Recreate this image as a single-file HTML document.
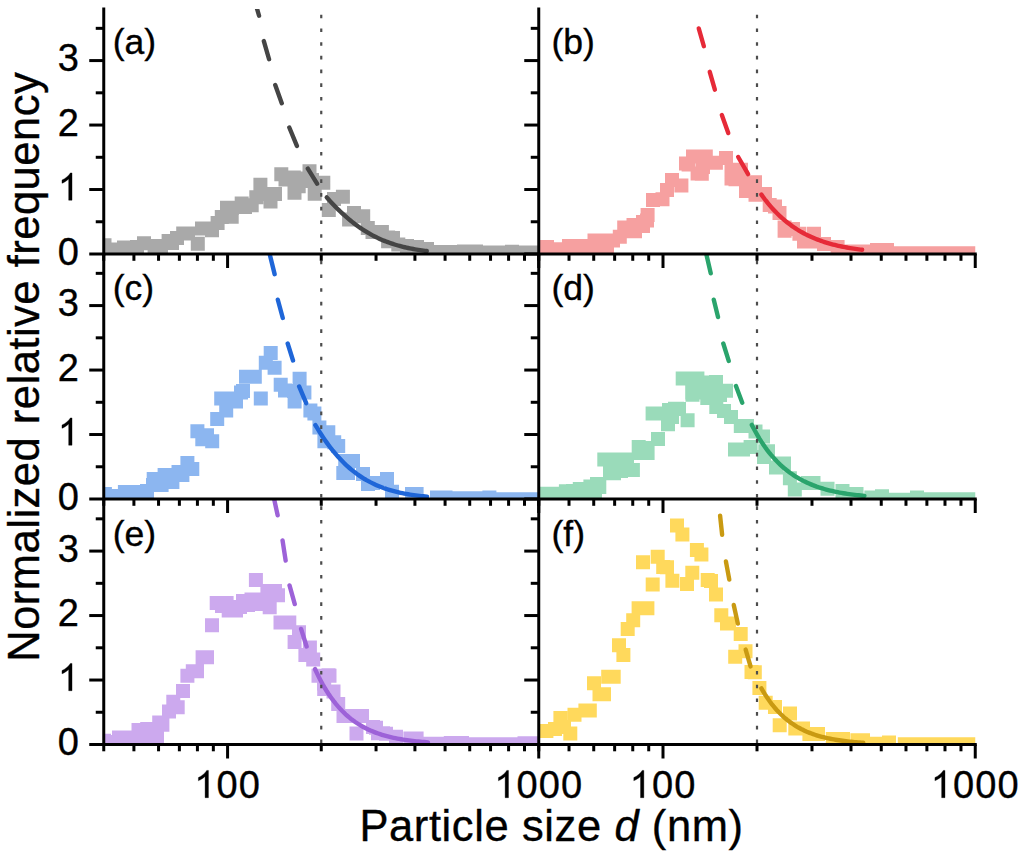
<!DOCTYPE html>
<html><head><meta charset="utf-8"><style>html,body{margin:0;padding:0;background:#fff;width:1025px;height:856px;overflow:hidden}svg{display:block}</style></head>
<body><svg width="1025" height="856" viewBox="0 0 1025 856">
<rect width="1025" height="856" fill="#fff"/>
<defs>
<clipPath id="cla"><rect x="103.75" y="9.0" width="435.0" height="245.0"/></clipPath>
<clipPath id="clb"><rect x="538.75" y="9.0" width="436.5" height="245.0"/></clipPath>
<clipPath id="clc"><rect x="103.75" y="254.0" width="435.0" height="245.0"/></clipPath>
<clipPath id="cld"><rect x="538.75" y="254.0" width="436.5" height="245.0"/></clipPath>
<clipPath id="cle"><rect x="103.75" y="499.5" width="435.0" height="245.0"/></clipPath>
<clipPath id="clf"><rect x="538.75" y="499.5" width="436.5" height="245.0"/></clipPath>
</defs>
<g clip-path="url(#cla)">
<path d="M97.5,238.3h14v14h-14zM104.0,244.6h14v14h-14zM110.0,242.5h14v14h-14zM117.0,240.4h14v14h-14zM124.0,240.4h14v14h-14zM130.0,240.0h14v14h-14zM137.0,236.2h14v14h-14zM147.6,238.9h14v14h-14zM154.0,238.9h14v14h-14zM161.6,234.1h14v14h-14zM165.0,236.0h14v14h-14zM170.0,231.0h14v14h-14zM176.2,226.4h14v14h-14zM181.0,226.4h14v14h-14zM190.8,236.8h14v14h-14zM195.0,221.6h14v14h-14zM203.0,221.6h14v14h-14zM205.0,223.2h14v14h-14zM210.6,216.0h14v14h-14zM214.8,210.1h14v14h-14zM220.0,200.7h14v14h-14zM225.0,200.7h14v14h-14zM224.7,209.7h14v14h-14zM234.7,196.5h14v14h-14zM238.0,200.0h14v14h-14zM244.7,198.2h14v14h-14zM249.3,190.3h14v14h-14zM253.4,177.7h14v14h-14zM263.5,194.4h14v14h-14zM268.0,187.1h14v14h-14zM274.3,167.3h14v14h-14zM286.8,170.4h14v14h-14zM287.5,185.7h14v14h-14zM295.0,174.0h14v14h-14zM302.5,164.2h14v14h-14zM307.7,186.7h14v14h-14zM316.3,175.8h14v14h-14zM278.5,172.4h14v14h-14zM291.7,179.3h14v14h-14zM294.5,171.5h14v14h-14zM305.0,173.0h14v14h-14zM255.0,187.0h14v14h-14zM321.8,203.1h14v14h-14zM327.0,192.0h14v14h-14zM335.9,189.8h14v14h-14zM342.1,212.4h14v14h-14zM347.0,206.0h14v14h-14zM356.2,209.3h14v14h-14zM360.8,221.0h14v14h-14zM365.5,224.9h14v14h-14zM374.9,224.9h14v14h-14zM381.1,230.4h14v14h-14zM381.1,234.3h14v14h-14zM385.8,231.2h14v14h-14zM391.3,237.4h14v14h-14zM400.0,239.0h14v14h-14zM386.0,231.1h14v14h-14zM416.0,242.0h14v14h-14zM410.0,240.0h14v14h-14zM420.0,242.0h14v14h-14zM433.0,245.0h14v14h-14zM445.0,245.0h14v14h-14zM457.0,244.5h14v14h-14zM469.0,244.5h14v14h-14zM481.0,245.5h14v14h-14zM493.0,245.5h14v14h-14zM505.0,244.7h14v14h-14zM517.0,245.5h14v14h-14zM529.0,245.5h14v14h-14z" fill="#a9a9a9"/>
<path d="M255.04,1.84L259.06,15.76M263.84,41.04L269.06,59.26M275.24,85.11L281.76,103.29M289.31,127.48L296.89,145.92M307.83,168.57L317.07,183.73" fill="none" stroke="#454545" stroke-width="4.4" stroke-linecap="round"/>
<path d="M326.70,197.39 L328.40,199.28 L330.09,201.13 L331.79,202.95 L333.49,204.73 L335.18,206.48 L336.88,208.19 L338.58,209.86 L340.27,211.49 L341.97,213.09 L343.67,214.65 L345.36,216.17 L347.06,217.65 L348.76,219.09 L350.45,220.50 L352.15,221.86 L353.85,223.19 L355.54,224.47 L357.24,225.72 L358.94,226.93 L360.63,228.11 L362.33,229.25 L364.03,230.34 L365.72,231.41 L367.42,232.44 L369.12,233.43 L370.81,234.38 L372.51,235.31 L374.21,236.20 L375.90,237.05 L377.60,237.88 L379.29,238.67 L380.99,239.43 L382.69,240.16 L384.38,240.86 L386.08,241.54 L387.78,242.18 L389.47,242.80 L391.17,243.39 L392.87,243.96 L394.56,244.50 L396.26,245.01 L397.96,245.51 L399.65,245.98 L401.35,246.43 L403.05,246.85 L404.74,247.26 L406.44,247.65 L408.14,248.02 L409.83,248.37 L411.53,248.70 L413.23,249.02 L414.92,249.31 L416.62,249.60 L418.32,249.87 L420.01,250.12 L421.71,250.36 L423.41,250.59 L425.10,250.81 L426.80,251.01" fill="none" stroke="#454545" stroke-width="4.4" stroke-linecap="round"/>
</g>
<g clip-path="url(#clb)">
<path d="M540.0,239.9h14v14h-14zM548.0,242.2h14v14h-14zM556.0,242.2h14v14h-14zM562.0,239.1h14v14h-14zM570.0,239.1h14v14h-14zM578.0,239.1h14v14h-14zM587.5,233.4h14v14h-14zM594.0,233.4h14v14h-14zM600.0,233.4h14v14h-14zM606.0,233.4h14v14h-14zM612.8,229.8h14v14h-14zM617.2,220.4h14v14h-14zM622.0,224.3h14v14h-14zM626.5,218.0h14v14h-14zM628.0,224.3h14v14h-14zM636.0,215.0h14v14h-14zM636.0,218.9h14v14h-14zM640.6,207.9h14v14h-14zM640.0,213.4h14v14h-14zM646.0,193.1h14v14h-14zM655.5,192.3h14v14h-14zM660.0,183.0h14v14h-14zM665.0,173.1h14v14h-14zM674.4,178.4h14v14h-14zM679.0,156.4h14v14h-14zM681.6,157.4h14v14h-14zM686.0,149.4h14v14h-14zM690.6,166.6h14v14h-14zM698.8,149.5h14v14h-14zM696.0,160.0h14v14h-14zM734.4,170.2h14v14h-14zM728.5,172.2h14v14h-14zM587.0,240.0h14v14h-14zM600.0,240.0h14v14h-14zM694.8,166.7h14v14h-14zM708.9,155.8h14v14h-14zM719.0,151.1h14v14h-14zM724.5,162.8h14v14h-14zM734.0,162.8h14v14h-14zM724.5,171.4h14v14h-14zM739.0,183.9h14v14h-14zM748.0,175.3h14v14h-14zM748.5,187.8h14v14h-14zM758.0,187.0h14v14h-14zM768.0,199.5h14v14h-14zM762.7,198.0h14v14h-14zM772.5,206.0h14v14h-14zM777.6,220.5h14v14h-14zM786.0,222.0h14v14h-14zM777.6,223.7h14v14h-14zM792.4,226.8h14v14h-14zM807.0,226.8h14v14h-14zM797.0,234.6h14v14h-14zM806.5,234.6h14v14h-14zM817.0,237.0h14v14h-14zM830.6,240.0h14v14h-14zM844.0,244.6h14v14h-14zM856.0,244.6h14v14h-14zM870.0,243.0h14v14h-14zM880.0,243.0h14v14h-14zM892.0,246.2h14v14h-14zM904.0,246.2h14v14h-14zM916.0,246.2h14v14h-14zM928.0,246.2h14v14h-14zM940.0,246.2h14v14h-14zM952.0,246.2h14v14h-14zM964.0,246.2h14v14h-14z" fill="#f6a0a0"/>
<path d="M698.74,28.44L703.86,46.26M709.74,71.84L714.86,89.66M721.84,115.11L728.26,133.09M738.20,156.99L748.10,174.11" fill="none" stroke="#e62a38" stroke-width="4.4" stroke-linecap="round"/>
<path d="M761.40,194.59 L763.11,196.96 L764.81,199.25 L766.52,201.45 L768.23,203.57 L769.93,205.61 L771.64,207.58 L773.35,209.47 L775.05,211.29 L776.76,213.05 L778.47,214.73 L780.17,216.35 L781.88,217.92 L783.59,219.42 L785.29,220.86 L787.00,222.25 L788.71,223.58 L790.42,224.86 L792.12,226.10 L793.83,227.28 L795.54,228.42 L797.24,229.51 L798.95,230.56 L800.66,231.56 L802.36,232.53 L804.07,233.46 L805.78,234.35 L807.48,235.21 L809.19,236.03 L810.90,236.81 L812.60,237.57 L814.31,238.29 L816.02,238.99 L817.72,239.65 L819.43,240.29 L821.14,240.90 L822.84,241.49 L824.55,242.05 L826.26,242.59 L827.96,243.10 L829.67,243.60 L831.38,244.07 L833.08,244.52 L834.79,244.95 L836.50,245.37 L838.21,245.77 L839.91,246.15 L841.62,246.51 L843.33,246.86 L845.03,247.19 L846.74,247.51 L848.45,247.81 L850.15,248.10 L851.86,248.38 L853.57,248.64 L855.27,248.90 L856.98,249.14 L858.69,249.37 L860.39,249.59 L862.10,249.80" fill="none" stroke="#e62a38" stroke-width="4.4" stroke-linecap="round"/>
</g>
<g clip-path="url(#clc)">
<path d="M97.9,486.9h14v14h-14zM104.0,488.9h14v14h-14zM110.0,488.9h14v14h-14zM117.9,484.9h14v14h-14zM125.0,484.9h14v14h-14zM132.7,484.9h14v14h-14zM140.0,484.0h14v14h-14zM146.7,472.0h14v14h-14zM146.0,478.0h14v14h-14zM154.6,477.9h14v14h-14zM157.6,468.0h14v14h-14zM165.4,474.9h14v14h-14zM171.5,465.0h14v14h-14zM175.4,467.9h14v14h-14zM180.4,456.1h14v14h-14zM185.3,462.0h14v14h-14zM190.4,424.3h14v14h-14zM195.3,432.2h14v14h-14zM200.0,428.3h14v14h-14zM205.2,434.3h14v14h-14zM210.2,412.0h14v14h-14zM214.2,391.6h14v14h-14zM219.2,403.4h14v14h-14zM224.0,391.6h14v14h-14zM229.0,394.5h14v14h-14zM234.0,385.6h14v14h-14zM239.0,369.7h14v14h-14zM247.8,369.7h14v14h-14zM253.8,391.6h14v14h-14zM258.8,355.8h14v14h-14zM263.7,345.9h14v14h-14zM267.6,360.8h14v14h-14zM273.7,377.7h14v14h-14zM278.0,383.5h14v14h-14zM287.6,394.5h14v14h-14zM292.6,371.7h14v14h-14zM287.0,384.0h14v14h-14zM236.0,384.0h14v14h-14zM297.4,385.6h14v14h-14zM303.4,403.5h14v14h-14zM307.4,406.5h14v14h-14zM312.4,420.4h14v14h-14zM317.4,434.2h14v14h-14zM321.3,425.3h14v14h-14zM327.2,435.3h14v14h-14zM331.2,439.1h14v14h-14zM338.2,454.1h14v14h-14zM346.0,454.1h14v14h-14zM336.3,466.0h14v14h-14zM341.0,466.0h14v14h-14zM356.0,467.0h14v14h-14zM361.0,476.9h14v14h-14zM366.0,476.0h14v14h-14zM380.0,472.1h14v14h-14zM385.0,484.8h14v14h-14zM405.0,487.1h14v14h-14zM409.6,487.1h14v14h-14zM430.0,490.4h14v14h-14zM438.5,490.4h14v14h-14zM452.5,491.3h14v14h-14zM466.0,491.3h14v14h-14zM473.0,491.3h14v14h-14zM482.4,490.6h14v14h-14zM496.4,492.3h14v14h-14zM510.0,492.3h14v14h-14zM524.0,492.3h14v14h-14z" fill="#8cb6f0"/>
<path d="M268.67,249.97L274.62,274.15M277.82,299.74L282.78,317.96M287.68,343.53L293.02,360.47M299.12,386.47L306.18,403.13" fill="none" stroke="#1f66d8" stroke-width="4.4" stroke-linecap="round"/>
<path d="M315.40,425.06 L317.29,428.24 L319.18,431.32 L321.07,434.29 L322.97,437.17 L324.86,439.95 L326.75,442.63 L328.64,445.22 L330.53,447.71 L332.42,450.12 L334.32,452.43 L336.21,454.66 L338.10,456.80 L339.99,458.86 L341.88,460.84 L343.77,462.74 L345.66,464.56 L347.56,466.31 L349.45,467.98 L351.34,469.58 L353.23,471.12 L355.12,472.59 L357.01,473.99 L358.91,475.33 L360.80,476.61 L362.69,477.83 L364.58,479.00 L366.47,480.11 L368.36,481.16 L370.25,482.17 L372.15,483.13 L374.04,484.04 L375.93,484.91 L377.82,485.73 L379.71,486.51 L381.60,487.25 L383.49,487.96 L385.39,488.62 L387.28,489.25 L389.17,489.85 L391.06,490.41 L392.95,490.95 L394.84,491.45 L396.74,491.93 L398.63,492.38 L400.52,492.80 L402.41,493.20 L404.30,493.58 L406.19,493.94 L408.08,494.27 L409.98,494.58 L411.87,494.88 L413.76,495.16 L415.65,495.42 L417.54,495.66 L419.43,495.89 L421.33,496.11 L423.22,496.31 L425.11,496.50 L427.00,496.68" fill="none" stroke="#1f66d8" stroke-width="4.4" stroke-linecap="round"/>
</g>
<g clip-path="url(#cld)">
<path d="M535.0,486.8h14v14h-14zM541.0,486.8h14v14h-14zM548.0,486.8h14v14h-14zM558.9,484.3h14v14h-14zM572.8,481.9h14v14h-14zM566.0,484.0h14v14h-14zM578.0,484.0h14v14h-14zM588.0,484.0h14v14h-14zM583.4,479.4h14v14h-14zM590.0,477.0h14v14h-14zM592.3,480.0h14v14h-14zM597.3,452.4h14v14h-14zM606.0,452.4h14v14h-14zM614.0,452.4h14v14h-14zM620.0,452.4h14v14h-14zM603.0,466.2h14v14h-14zM607.0,466.2h14v14h-14zM614.0,464.0h14v14h-14zM625.9,463.0h14v14h-14zM631.7,440.1h14v14h-14zM640.6,445.9h14v14h-14zM651.0,432.0h14v14h-14zM661.0,417.2h14v14h-14zM645.6,406.6h14v14h-14zM652.0,406.6h14v14h-14zM668.0,401.7h14v14h-14zM670.0,401.7h14v14h-14zM680.6,413.2h14v14h-14zM675.7,371.4h14v14h-14zM682.0,371.4h14v14h-14zM685.5,387.8h14v14h-14zM690.4,371.4h14v14h-14zM717.0,404.0h14v14h-14zM685.2,385.4h14v14h-14zM693.0,385.4h14v14h-14zM701.0,386.0h14v14h-14zM713.0,388.0h14v14h-14zM709.0,375.0h14v14h-14zM662.0,403.0h14v14h-14zM672.0,402.0h14v14h-14zM665.0,410.0h14v14h-14zM638.0,441.0h14v14h-14zM632.0,446.0h14v14h-14zM704.3,375.5h14v14h-14zM700.3,391.0h14v14h-14zM709.3,400.0h14v14h-14zM719.0,383.7h14v14h-14zM724.0,409.9h14v14h-14zM733.8,418.9h14v14h-14zM740.0,418.9h14v14h-14zM748.5,424.6h14v14h-14zM728.0,442.6h14v14h-14zM736.0,442.6h14v14h-14zM743.6,440.1h14v14h-14zM756.0,429.5h14v14h-14zM758.3,444.2h14v14h-14zM761.0,444.2h14v14h-14zM757.0,449.9h14v14h-14zM773.0,456.5h14v14h-14zM777.0,456.5h14v14h-14zM769.0,460.5h14v14h-14zM782.9,471.2h14v14h-14zM787.8,482.6h14v14h-14zM800.8,476.1h14v14h-14zM806.5,476.1h14v14h-14zM820.5,481.8h14v14h-14zM835.5,483.9h14v14h-14zM849.5,487.1h14v14h-14zM864.4,490.6h14v14h-14zM875.0,489.2h14v14h-14zM889.0,492.7h14v14h-14zM900.0,492.7h14v14h-14zM910.0,490.6h14v14h-14zM922.4,492.3h14v14h-14zM936.0,492.3h14v14h-14zM950.0,492.3h14v14h-14zM962.0,492.3h14v14h-14z" fill="#9adbba"/>
<path d="M705.35,249.95L710.74,273.24M713.78,299.75L718.02,317.05M723.28,343.53L728.72,360.87M735.96,386.00L742.24,402.70" fill="none" stroke="#2aa46c" stroke-width="4.4" stroke-linecap="round"/>
<path d="M751.80,424.90 L753.71,428.57 L755.62,432.07 L757.53,435.40 L759.43,438.58 L761.34,441.60 L763.25,444.47 L765.16,447.21 L767.07,449.81 L768.98,452.29 L770.88,454.64 L772.79,456.88 L774.70,459.02 L776.61,461.05 L778.52,462.97 L780.43,464.81 L782.34,466.55 L784.24,468.21 L786.15,469.79 L788.06,471.28 L789.97,472.71 L791.88,474.06 L793.79,475.35 L795.69,476.57 L797.60,477.73 L799.51,478.83 L801.42,479.88 L803.33,480.88 L805.24,481.82 L807.15,482.72 L809.05,483.57 L810.96,484.38 L812.87,485.15 L814.78,485.87 L816.69,486.57 L818.60,487.22 L820.51,487.84 L822.41,488.44 L824.32,489.00 L826.23,489.53 L828.14,490.03 L830.05,490.51 L831.96,490.96 L833.86,491.39 L835.77,491.80 L837.68,492.19 L839.59,492.55 L841.50,492.90 L843.41,493.23 L845.32,493.54 L847.22,493.84 L849.13,494.12 L851.04,494.38 L852.95,494.64 L854.86,494.87 L856.77,495.10 L858.67,495.31 L860.58,495.51 L862.49,495.71 L864.40,495.89" fill="none" stroke="#2aa46c" stroke-width="4.4" stroke-linecap="round"/>
</g>
<g clip-path="url(#cle)">
<path d="M97.0,733.8h14v14h-14zM104.0,735.0h14v14h-14zM112.0,730.6h14v14h-14zM117.5,730.6h14v14h-14zM131.5,723.0h14v14h-14zM128.0,733.0h14v14h-14zM140.0,731.0h14v14h-14zM150.0,729.0h14v14h-14zM138.0,723.0h14v14h-14zM140.2,722.0h14v14h-14zM152.2,715.4h14v14h-14zM155.4,717.7h14v14h-14zM162.0,704.5h14v14h-14zM166.3,694.7h14v14h-14zM170.7,700.2h14v14h-14zM176.0,683.9h14v14h-14zM180.4,668.7h14v14h-14zM185.8,664.3h14v14h-14zM190.0,664.3h14v14h-14zM195.6,650.2h14v14h-14zM200.0,650.2h14v14h-14zM205.0,618.2h14v14h-14zM209.7,595.9h14v14h-14zM215.0,599.0h14v14h-14zM225.0,600.0h14v14h-14zM233.0,600.0h14v14h-14zM241.0,598.0h14v14h-14zM250.0,597.0h14v14h-14zM236.0,594.0h14v14h-14zM219.6,595.9h14v14h-14zM221.7,603.6h14v14h-14zM229.0,603.6h14v14h-14zM244.5,592.6h14v14h-14zM252.0,592.6h14v14h-14zM248.9,573.0h14v14h-14zM260.4,583.9h14v14h-14zM268.0,583.9h14v14h-14zM262.7,600.3h14v14h-14zM265.9,588.2h14v14h-14zM271.0,588.2h14v14h-14zM273.5,615.4h14v14h-14zM282.3,615.4h14v14h-14zM292.0,625.2h14v14h-14zM287.6,635.1h14v14h-14zM302.9,640.4h14v14h-14zM298.4,648.1h14v14h-14zM306.2,652.4h14v14h-14zM311.5,668.7h14v14h-14zM322.5,668.7h14v14h-14zM317.0,676.4h14v14h-14zM331.2,696.9h14v14h-14zM326.5,684.4h14v14h-14zM317.2,682.0h14v14h-14zM321.5,668.3h14v14h-14zM336.5,708.9h14v14h-14zM346.0,708.9h14v14h-14zM355.0,708.9h14v14h-14zM336.5,709.0h14v14h-14zM349.5,726.4h14v14h-14zM369.0,720.8h14v14h-14zM371.0,726.2h14v14h-14zM376.0,726.2h14v14h-14zM366.0,720.1h14v14h-14zM379.0,726.8h14v14h-14zM389.0,729.8h14v14h-14zM403.4,731.5h14v14h-14zM409.6,731.5h14v14h-14zM423.6,736.8h14v14h-14zM430.0,736.8h14v14h-14zM443.8,735.9h14v14h-14zM455.0,735.9h14v14h-14zM468.0,737.3h14v14h-14zM482.0,737.3h14v14h-14zM496.0,737.3h14v14h-14zM510.0,737.3h14v14h-14zM517.5,736.3h14v14h-14zM526.0,736.3h14v14h-14z" fill="#cca9ee"/>
<path d="M273.23,494.94L277.66,515.34M282.54,540.38L285.66,560.62M289.53,585.44L294.77,604.06M301.08,628.93L306.62,646.47" fill="none" stroke="#9d62d8" stroke-width="4.4" stroke-linecap="round"/>
<path d="M315.00,669.01 L316.92,673.14 L318.83,677.04 L320.75,680.74 L322.66,684.25 L324.58,687.57 L326.49,690.72 L328.41,693.70 L330.32,696.52 L332.24,699.19 L334.15,701.72 L336.07,704.11 L337.98,706.38 L339.90,708.52 L341.81,710.55 L343.73,712.47 L345.64,714.28 L347.56,716.00 L349.47,717.62 L351.39,719.15 L353.31,720.60 L355.22,721.97 L357.14,723.26 L359.05,724.49 L360.97,725.64 L362.88,726.73 L364.80,727.76 L366.71,728.74 L368.63,729.65 L370.54,730.52 L372.46,731.34 L374.37,732.11 L376.29,732.84 L378.20,733.53 L380.12,734.18 L382.03,734.79 L383.95,735.36 L385.86,735.91 L387.78,736.42 L389.69,736.90 L391.61,737.36 L393.53,737.79 L395.44,738.19 L397.36,738.57 L399.27,738.93 L401.19,739.27 L403.10,739.58 L405.02,739.88 L406.93,740.16 L408.85,740.43 L410.76,740.68 L412.68,740.91 L414.59,741.13 L416.51,741.34 L418.42,741.54 L420.34,741.72 L422.25,741.89 L424.17,742.05 L426.08,742.21 L428.00,742.35" fill="none" stroke="#9d62d8" stroke-width="4.4" stroke-linecap="round"/>
</g>
<g clip-path="url(#clf)">
<path d="M539.4,724.0h14v14h-14zM553.4,711.0h14v14h-14zM548.0,722.0h14v14h-14zM557.0,720.0h14v14h-14zM563.3,726.4h14v14h-14zM567.5,707.8h14v14h-14zM578.4,703.4h14v14h-14zM582.8,703.4h14v14h-14zM587.0,676.3h14v14h-14zM601.2,669.7h14v14h-14zM606.7,669.7h14v14h-14zM592.5,687.2h14v14h-14zM597.0,687.2h14v14h-14zM612.0,638.2h14v14h-14zM616.4,648.0h14v14h-14zM620.7,621.9h14v14h-14zM626.2,613.2h14v14h-14zM631.6,601.3h14v14h-14zM640.4,601.3h14v14h-14zM645.7,577.4h14v14h-14zM636.0,555.3h14v14h-14zM650.7,549.8h14v14h-14zM656.2,560.0h14v14h-14zM660.0,560.2h14v14h-14zM665.4,573.8h14v14h-14zM670.0,518.6h14v14h-14zM675.4,527.6h14v14h-14zM680.0,577.0h14v14h-14zM685.3,565.7h14v14h-14zM689.9,543.0h14v14h-14zM694.4,547.5h14v14h-14zM700.7,573.0h14v14h-14zM704.0,574.0h14v14h-14zM709.0,587.4h14v14h-14zM714.3,608.2h14v14h-14zM720.0,616.4h14v14h-14zM722.0,616.4h14v14h-14zM733.7,627.0h14v14h-14zM728.2,649.7h14v14h-14zM738.5,644.2h14v14h-14zM744.5,665.0h14v14h-14zM747.8,665.3h14v14h-14zM752.4,680.9h14v14h-14zM758.7,695.7h14v14h-14zM768.0,700.0h14v14h-14zM783.0,706.6h14v14h-14zM772.7,718.3h14v14h-14zM788.3,721.5h14v14h-14zM796.0,721.5h14v14h-14zM802.4,726.9h14v14h-14zM811.0,726.9h14v14h-14zM825.8,732.1h14v14h-14zM836.0,732.1h14v14h-14zM850.4,733.3h14v14h-14zM856.0,733.3h14v14h-14zM869.7,736.8h14v14h-14zM882.0,735.6h14v14h-14zM897.8,737.3h14v14h-14zM911.0,737.3h14v14h-14zM925.0,737.3h14v14h-14zM939.0,737.3h14v14h-14zM953.0,737.3h14v14h-14zM964.0,737.3h14v14h-14z" fill="#ffd95c"/>
<path d="M720.07,515.59L722.13,534.71M725.90,561.37L729.30,579.53M733.74,604.96L737.86,623.64M745.65,649.54L750.55,666.46" fill="none" stroke="#c99a12" stroke-width="4.4" stroke-linecap="round"/>
<path d="M761.40,688.37 L763.13,691.33 L764.85,694.14 L766.58,696.81 L768.30,699.34 L770.03,701.75 L771.75,704.03 L773.48,706.20 L775.20,708.26 L776.93,710.21 L778.65,712.06 L780.38,713.81 L782.11,715.48 L783.83,717.06 L785.56,718.56 L787.28,719.98 L789.01,721.32 L790.73,722.60 L792.46,723.80 L794.18,724.95 L795.91,726.03 L797.63,727.06 L799.36,728.03 L801.08,728.95 L802.81,729.82 L804.54,730.65 L806.26,731.43 L807.99,732.16 L809.71,732.86 L811.44,733.52 L813.16,734.15 L814.89,734.74 L816.61,735.29 L818.34,735.82 L820.06,736.32 L821.79,736.79 L823.52,737.24 L825.24,737.66 L826.97,738.05 L828.69,738.43 L830.42,738.78 L832.14,739.12 L833.87,739.43 L835.59,739.73 L837.32,740.01 L839.04,740.27 L840.77,740.52 L842.49,740.76 L844.22,740.98 L845.95,741.19 L847.67,741.39 L849.40,741.58 L851.12,741.75 L852.85,741.92 L854.57,742.07 L856.30,742.22 L858.02,742.36 L859.75,742.49 L861.47,742.61 L863.20,742.73" fill="none" stroke="#c99a12" stroke-width="4.4" stroke-linecap="round"/>
</g>
<line x1="321.25" y1="9.0" x2="321.25" y2="254.0" stroke="#4d4d4d" stroke-width="2.2" stroke-dasharray="3.6 10.12" stroke-dashoffset="-5.70"/>
<line x1="757.00" y1="9.0" x2="757.00" y2="254.0" stroke="#4d4d4d" stroke-width="2.2" stroke-dasharray="3.6 10.12" stroke-dashoffset="-5.70"/>
<line x1="321.25" y1="254.0" x2="321.25" y2="499.0" stroke="#4d4d4d" stroke-width="2.2" stroke-dasharray="3.6 10.12" stroke-dashoffset="-6.70"/>
<line x1="757.00" y1="254.0" x2="757.00" y2="499.0" stroke="#4d4d4d" stroke-width="2.2" stroke-dasharray="3.6 10.12" stroke-dashoffset="-6.70"/>
<line x1="321.25" y1="499.5" x2="321.25" y2="744.5" stroke="#4d4d4d" stroke-width="2.2" stroke-dasharray="3.6 10.12" stroke-dashoffset="-6.80"/>
<line x1="757.00" y1="499.5" x2="757.00" y2="744.5" stroke="#4d4d4d" stroke-width="2.2" stroke-dasharray="3.6 10.12" stroke-dashoffset="-6.80"/>
<line x1="103.75" y1="7.5" x2="103.75" y2="255.5" stroke="#000" stroke-width="3"/>
<line x1="103.75" y1="254.0" x2="538.75" y2="254.0" stroke="#000" stroke-width="3"/>
<line x1="89.25" y1="254.00" x2="103.75" y2="254.00" stroke="#000" stroke-width="3"/>
<line x1="95.75" y1="221.76" x2="103.75" y2="221.76" stroke="#000" stroke-width="3"/>
<line x1="89.25" y1="189.53" x2="103.75" y2="189.53" stroke="#000" stroke-width="3"/>
<line x1="95.75" y1="157.29" x2="103.75" y2="157.29" stroke="#000" stroke-width="3"/>
<line x1="89.25" y1="125.05" x2="103.75" y2="125.05" stroke="#000" stroke-width="3"/>
<line x1="95.75" y1="92.82" x2="103.75" y2="92.82" stroke="#000" stroke-width="3"/>
<line x1="89.25" y1="60.58" x2="103.75" y2="60.58" stroke="#000" stroke-width="3"/>
<line x1="95.75" y1="28.34" x2="103.75" y2="28.34" stroke="#000" stroke-width="3"/>
<line x1="103.75" y1="254.0" x2="103.75" y2="260.8" stroke="#000" stroke-width="3"/>
<line x1="133.91" y1="254.0" x2="133.91" y2="260.8" stroke="#000" stroke-width="3"/>
<line x1="158.54" y1="254.0" x2="158.54" y2="260.8" stroke="#000" stroke-width="3"/>
<line x1="179.38" y1="254.0" x2="179.38" y2="260.8" stroke="#000" stroke-width="3"/>
<line x1="197.42" y1="254.0" x2="197.42" y2="260.8" stroke="#000" stroke-width="3"/>
<line x1="213.34" y1="254.0" x2="213.34" y2="260.8" stroke="#000" stroke-width="3"/>
<line x1="227.58" y1="254.0" x2="227.58" y2="268.0" stroke="#000" stroke-width="3"/>
<line x1="321.25" y1="254.0" x2="321.25" y2="260.8" stroke="#000" stroke-width="3"/>
<line x1="376.04" y1="254.0" x2="376.04" y2="260.8" stroke="#000" stroke-width="3"/>
<line x1="414.92" y1="254.0" x2="414.92" y2="260.8" stroke="#000" stroke-width="3"/>
<line x1="445.08" y1="254.0" x2="445.08" y2="260.8" stroke="#000" stroke-width="3"/>
<line x1="469.72" y1="254.0" x2="469.72" y2="260.8" stroke="#000" stroke-width="3"/>
<line x1="490.55" y1="254.0" x2="490.55" y2="260.8" stroke="#000" stroke-width="3"/>
<line x1="508.59" y1="254.0" x2="508.59" y2="260.8" stroke="#000" stroke-width="3"/>
<line x1="524.51" y1="254.0" x2="524.51" y2="260.8" stroke="#000" stroke-width="3"/>
<line x1="538.75" y1="254.0" x2="538.75" y2="268.0" stroke="#000" stroke-width="3"/>
<line x1="538.75" y1="7.5" x2="538.75" y2="255.5" stroke="#000" stroke-width="3"/>
<line x1="538.75" y1="254.0" x2="976.75" y2="254.0" stroke="#000" stroke-width="3"/>
<line x1="524.25" y1="254.00" x2="538.75" y2="254.00" stroke="#000" stroke-width="3"/>
<line x1="530.75" y1="221.76" x2="538.75" y2="221.76" stroke="#000" stroke-width="3"/>
<line x1="524.25" y1="189.53" x2="538.75" y2="189.53" stroke="#000" stroke-width="3"/>
<line x1="530.75" y1="157.29" x2="538.75" y2="157.29" stroke="#000" stroke-width="3"/>
<line x1="524.25" y1="125.05" x2="538.75" y2="125.05" stroke="#000" stroke-width="3"/>
<line x1="530.75" y1="92.82" x2="538.75" y2="92.82" stroke="#000" stroke-width="3"/>
<line x1="524.25" y1="60.58" x2="538.75" y2="60.58" stroke="#000" stroke-width="3"/>
<line x1="530.75" y1="28.34" x2="538.75" y2="28.34" stroke="#000" stroke-width="3"/>
<line x1="538.75" y1="254.0" x2="538.75" y2="260.8" stroke="#000" stroke-width="3"/>
<line x1="569.01" y1="254.0" x2="569.01" y2="260.8" stroke="#000" stroke-width="3"/>
<line x1="593.73" y1="254.0" x2="593.73" y2="260.8" stroke="#000" stroke-width="3"/>
<line x1="614.64" y1="254.0" x2="614.64" y2="260.8" stroke="#000" stroke-width="3"/>
<line x1="632.75" y1="254.0" x2="632.75" y2="260.8" stroke="#000" stroke-width="3"/>
<line x1="648.72" y1="254.0" x2="648.72" y2="260.8" stroke="#000" stroke-width="3"/>
<line x1="663.00" y1="254.0" x2="663.00" y2="268.0" stroke="#000" stroke-width="3"/>
<line x1="757.00" y1="254.0" x2="757.00" y2="260.8" stroke="#000" stroke-width="3"/>
<line x1="811.98" y1="254.0" x2="811.98" y2="260.8" stroke="#000" stroke-width="3"/>
<line x1="851.00" y1="254.0" x2="851.00" y2="260.8" stroke="#000" stroke-width="3"/>
<line x1="881.25" y1="254.0" x2="881.25" y2="260.8" stroke="#000" stroke-width="3"/>
<line x1="905.98" y1="254.0" x2="905.98" y2="260.8" stroke="#000" stroke-width="3"/>
<line x1="926.88" y1="254.0" x2="926.88" y2="260.8" stroke="#000" stroke-width="3"/>
<line x1="944.99" y1="254.0" x2="944.99" y2="260.8" stroke="#000" stroke-width="3"/>
<line x1="960.96" y1="254.0" x2="960.96" y2="260.8" stroke="#000" stroke-width="3"/>
<line x1="975.25" y1="254.0" x2="975.25" y2="268.0" stroke="#000" stroke-width="3"/>
<line x1="103.75" y1="254.0" x2="103.75" y2="500.5" stroke="#000" stroke-width="3"/>
<line x1="103.75" y1="499.0" x2="538.75" y2="499.0" stroke="#000" stroke-width="3"/>
<line x1="89.25" y1="499.00" x2="103.75" y2="499.00" stroke="#000" stroke-width="3"/>
<line x1="95.75" y1="466.76" x2="103.75" y2="466.76" stroke="#000" stroke-width="3"/>
<line x1="89.25" y1="434.53" x2="103.75" y2="434.53" stroke="#000" stroke-width="3"/>
<line x1="95.75" y1="402.29" x2="103.75" y2="402.29" stroke="#000" stroke-width="3"/>
<line x1="89.25" y1="370.05" x2="103.75" y2="370.05" stroke="#000" stroke-width="3"/>
<line x1="95.75" y1="337.82" x2="103.75" y2="337.82" stroke="#000" stroke-width="3"/>
<line x1="89.25" y1="305.58" x2="103.75" y2="305.58" stroke="#000" stroke-width="3"/>
<line x1="95.75" y1="273.34" x2="103.75" y2="273.34" stroke="#000" stroke-width="3"/>
<line x1="103.75" y1="499.0" x2="103.75" y2="505.8" stroke="#000" stroke-width="3"/>
<line x1="133.91" y1="499.0" x2="133.91" y2="505.8" stroke="#000" stroke-width="3"/>
<line x1="158.54" y1="499.0" x2="158.54" y2="505.8" stroke="#000" stroke-width="3"/>
<line x1="179.38" y1="499.0" x2="179.38" y2="505.8" stroke="#000" stroke-width="3"/>
<line x1="197.42" y1="499.0" x2="197.42" y2="505.8" stroke="#000" stroke-width="3"/>
<line x1="213.34" y1="499.0" x2="213.34" y2="505.8" stroke="#000" stroke-width="3"/>
<line x1="227.58" y1="499.0" x2="227.58" y2="513.0" stroke="#000" stroke-width="3"/>
<line x1="321.25" y1="499.0" x2="321.25" y2="505.8" stroke="#000" stroke-width="3"/>
<line x1="376.04" y1="499.0" x2="376.04" y2="505.8" stroke="#000" stroke-width="3"/>
<line x1="414.92" y1="499.0" x2="414.92" y2="505.8" stroke="#000" stroke-width="3"/>
<line x1="445.08" y1="499.0" x2="445.08" y2="505.8" stroke="#000" stroke-width="3"/>
<line x1="469.72" y1="499.0" x2="469.72" y2="505.8" stroke="#000" stroke-width="3"/>
<line x1="490.55" y1="499.0" x2="490.55" y2="505.8" stroke="#000" stroke-width="3"/>
<line x1="508.59" y1="499.0" x2="508.59" y2="505.8" stroke="#000" stroke-width="3"/>
<line x1="524.51" y1="499.0" x2="524.51" y2="505.8" stroke="#000" stroke-width="3"/>
<line x1="538.75" y1="499.0" x2="538.75" y2="513.0" stroke="#000" stroke-width="3"/>
<line x1="538.75" y1="254.0" x2="538.75" y2="500.5" stroke="#000" stroke-width="3"/>
<line x1="538.75" y1="499.0" x2="976.75" y2="499.0" stroke="#000" stroke-width="3"/>
<line x1="524.25" y1="499.00" x2="538.75" y2="499.00" stroke="#000" stroke-width="3"/>
<line x1="530.75" y1="466.76" x2="538.75" y2="466.76" stroke="#000" stroke-width="3"/>
<line x1="524.25" y1="434.53" x2="538.75" y2="434.53" stroke="#000" stroke-width="3"/>
<line x1="530.75" y1="402.29" x2="538.75" y2="402.29" stroke="#000" stroke-width="3"/>
<line x1="524.25" y1="370.05" x2="538.75" y2="370.05" stroke="#000" stroke-width="3"/>
<line x1="530.75" y1="337.82" x2="538.75" y2="337.82" stroke="#000" stroke-width="3"/>
<line x1="524.25" y1="305.58" x2="538.75" y2="305.58" stroke="#000" stroke-width="3"/>
<line x1="530.75" y1="273.34" x2="538.75" y2="273.34" stroke="#000" stroke-width="3"/>
<line x1="538.75" y1="499.0" x2="538.75" y2="505.8" stroke="#000" stroke-width="3"/>
<line x1="569.01" y1="499.0" x2="569.01" y2="505.8" stroke="#000" stroke-width="3"/>
<line x1="593.73" y1="499.0" x2="593.73" y2="505.8" stroke="#000" stroke-width="3"/>
<line x1="614.64" y1="499.0" x2="614.64" y2="505.8" stroke="#000" stroke-width="3"/>
<line x1="632.75" y1="499.0" x2="632.75" y2="505.8" stroke="#000" stroke-width="3"/>
<line x1="648.72" y1="499.0" x2="648.72" y2="505.8" stroke="#000" stroke-width="3"/>
<line x1="663.00" y1="499.0" x2="663.00" y2="513.0" stroke="#000" stroke-width="3"/>
<line x1="757.00" y1="499.0" x2="757.00" y2="505.8" stroke="#000" stroke-width="3"/>
<line x1="811.98" y1="499.0" x2="811.98" y2="505.8" stroke="#000" stroke-width="3"/>
<line x1="851.00" y1="499.0" x2="851.00" y2="505.8" stroke="#000" stroke-width="3"/>
<line x1="881.25" y1="499.0" x2="881.25" y2="505.8" stroke="#000" stroke-width="3"/>
<line x1="905.98" y1="499.0" x2="905.98" y2="505.8" stroke="#000" stroke-width="3"/>
<line x1="926.88" y1="499.0" x2="926.88" y2="505.8" stroke="#000" stroke-width="3"/>
<line x1="944.99" y1="499.0" x2="944.99" y2="505.8" stroke="#000" stroke-width="3"/>
<line x1="960.96" y1="499.0" x2="960.96" y2="505.8" stroke="#000" stroke-width="3"/>
<line x1="975.25" y1="499.0" x2="975.25" y2="513.0" stroke="#000" stroke-width="3"/>
<line x1="103.75" y1="499.5" x2="103.75" y2="746.0" stroke="#000" stroke-width="3"/>
<line x1="103.75" y1="744.5" x2="538.75" y2="744.5" stroke="#000" stroke-width="3"/>
<line x1="89.25" y1="744.50" x2="103.75" y2="744.50" stroke="#000" stroke-width="3"/>
<line x1="95.75" y1="712.26" x2="103.75" y2="712.26" stroke="#000" stroke-width="3"/>
<line x1="89.25" y1="680.03" x2="103.75" y2="680.03" stroke="#000" stroke-width="3"/>
<line x1="95.75" y1="647.79" x2="103.75" y2="647.79" stroke="#000" stroke-width="3"/>
<line x1="89.25" y1="615.55" x2="103.75" y2="615.55" stroke="#000" stroke-width="3"/>
<line x1="95.75" y1="583.32" x2="103.75" y2="583.32" stroke="#000" stroke-width="3"/>
<line x1="89.25" y1="551.08" x2="103.75" y2="551.08" stroke="#000" stroke-width="3"/>
<line x1="95.75" y1="518.84" x2="103.75" y2="518.84" stroke="#000" stroke-width="3"/>
<line x1="103.75" y1="744.5" x2="103.75" y2="751.3" stroke="#000" stroke-width="3"/>
<line x1="133.91" y1="744.5" x2="133.91" y2="751.3" stroke="#000" stroke-width="3"/>
<line x1="158.54" y1="744.5" x2="158.54" y2="751.3" stroke="#000" stroke-width="3"/>
<line x1="179.38" y1="744.5" x2="179.38" y2="751.3" stroke="#000" stroke-width="3"/>
<line x1="197.42" y1="744.5" x2="197.42" y2="751.3" stroke="#000" stroke-width="3"/>
<line x1="213.34" y1="744.5" x2="213.34" y2="751.3" stroke="#000" stroke-width="3"/>
<line x1="227.58" y1="744.5" x2="227.58" y2="758.5" stroke="#000" stroke-width="3"/>
<line x1="321.25" y1="744.5" x2="321.25" y2="751.3" stroke="#000" stroke-width="3"/>
<line x1="376.04" y1="744.5" x2="376.04" y2="751.3" stroke="#000" stroke-width="3"/>
<line x1="414.92" y1="744.5" x2="414.92" y2="751.3" stroke="#000" stroke-width="3"/>
<line x1="445.08" y1="744.5" x2="445.08" y2="751.3" stroke="#000" stroke-width="3"/>
<line x1="469.72" y1="744.5" x2="469.72" y2="751.3" stroke="#000" stroke-width="3"/>
<line x1="490.55" y1="744.5" x2="490.55" y2="751.3" stroke="#000" stroke-width="3"/>
<line x1="508.59" y1="744.5" x2="508.59" y2="751.3" stroke="#000" stroke-width="3"/>
<line x1="524.51" y1="744.5" x2="524.51" y2="751.3" stroke="#000" stroke-width="3"/>
<line x1="538.75" y1="744.5" x2="538.75" y2="758.5" stroke="#000" stroke-width="3"/>
<line x1="538.75" y1="499.5" x2="538.75" y2="746.0" stroke="#000" stroke-width="3"/>
<line x1="538.75" y1="744.5" x2="976.75" y2="744.5" stroke="#000" stroke-width="3"/>
<line x1="524.25" y1="744.50" x2="538.75" y2="744.50" stroke="#000" stroke-width="3"/>
<line x1="530.75" y1="712.26" x2="538.75" y2="712.26" stroke="#000" stroke-width="3"/>
<line x1="524.25" y1="680.03" x2="538.75" y2="680.03" stroke="#000" stroke-width="3"/>
<line x1="530.75" y1="647.79" x2="538.75" y2="647.79" stroke="#000" stroke-width="3"/>
<line x1="524.25" y1="615.55" x2="538.75" y2="615.55" stroke="#000" stroke-width="3"/>
<line x1="530.75" y1="583.32" x2="538.75" y2="583.32" stroke="#000" stroke-width="3"/>
<line x1="524.25" y1="551.08" x2="538.75" y2="551.08" stroke="#000" stroke-width="3"/>
<line x1="530.75" y1="518.84" x2="538.75" y2="518.84" stroke="#000" stroke-width="3"/>
<line x1="538.75" y1="744.5" x2="538.75" y2="751.3" stroke="#000" stroke-width="3"/>
<line x1="569.01" y1="744.5" x2="569.01" y2="751.3" stroke="#000" stroke-width="3"/>
<line x1="593.73" y1="744.5" x2="593.73" y2="751.3" stroke="#000" stroke-width="3"/>
<line x1="614.64" y1="744.5" x2="614.64" y2="751.3" stroke="#000" stroke-width="3"/>
<line x1="632.75" y1="744.5" x2="632.75" y2="751.3" stroke="#000" stroke-width="3"/>
<line x1="648.72" y1="744.5" x2="648.72" y2="751.3" stroke="#000" stroke-width="3"/>
<line x1="663.00" y1="744.5" x2="663.00" y2="758.5" stroke="#000" stroke-width="3"/>
<line x1="757.00" y1="744.5" x2="757.00" y2="751.3" stroke="#000" stroke-width="3"/>
<line x1="811.98" y1="744.5" x2="811.98" y2="751.3" stroke="#000" stroke-width="3"/>
<line x1="851.00" y1="744.5" x2="851.00" y2="751.3" stroke="#000" stroke-width="3"/>
<line x1="881.25" y1="744.5" x2="881.25" y2="751.3" stroke="#000" stroke-width="3"/>
<line x1="905.98" y1="744.5" x2="905.98" y2="751.3" stroke="#000" stroke-width="3"/>
<line x1="926.88" y1="744.5" x2="926.88" y2="751.3" stroke="#000" stroke-width="3"/>
<line x1="944.99" y1="744.5" x2="944.99" y2="751.3" stroke="#000" stroke-width="3"/>
<line x1="960.96" y1="744.5" x2="960.96" y2="751.3" stroke="#000" stroke-width="3"/>
<line x1="975.25" y1="744.5" x2="975.25" y2="758.5" stroke="#000" stroke-width="3"/>
<text x="57.87" y="264.70" font-size="38" style="font-family:'Liberation Sans',sans-serif;stroke:#000;stroke-width:0.35px">0</text>
<path transform="translate(57.87,200.23) scale(0.01855,-0.01855)" d="M763,0H583V1147C518,1085 433,1023 328,961C280,933 242,921 222,912V1086C312,1128 410,1189 497,1267C584,1345 640,1414 671,1472H763Z" fill="#000" stroke="#000" stroke-width="18.9"/>
<text x="57.87" y="135.75" font-size="38" style="font-family:'Liberation Sans',sans-serif;stroke:#000;stroke-width:0.35px">2</text>
<text x="57.87" y="71.28" font-size="38" style="font-family:'Liberation Sans',sans-serif;stroke:#000;stroke-width:0.35px">3</text>
<text x="57.87" y="509.70" font-size="38" style="font-family:'Liberation Sans',sans-serif;stroke:#000;stroke-width:0.35px">0</text>
<path transform="translate(57.87,445.23) scale(0.01855,-0.01855)" d="M763,0H583V1147C518,1085 433,1023 328,961C280,933 242,921 222,912V1086C312,1128 410,1189 497,1267C584,1345 640,1414 671,1472H763Z" fill="#000" stroke="#000" stroke-width="18.9"/>
<text x="57.87" y="380.75" font-size="38" style="font-family:'Liberation Sans',sans-serif;stroke:#000;stroke-width:0.35px">2</text>
<text x="57.87" y="316.28" font-size="38" style="font-family:'Liberation Sans',sans-serif;stroke:#000;stroke-width:0.35px">3</text>
<text x="57.87" y="755.20" font-size="38" style="font-family:'Liberation Sans',sans-serif;stroke:#000;stroke-width:0.35px">0</text>
<path transform="translate(57.87,690.73) scale(0.01855,-0.01855)" d="M763,0H583V1147C518,1085 433,1023 328,961C280,933 242,921 222,912V1086C312,1128 410,1189 497,1267C584,1345 640,1414 671,1472H763Z" fill="#000" stroke="#000" stroke-width="18.9"/>
<text x="57.87" y="626.25" font-size="38" style="font-family:'Liberation Sans',sans-serif;stroke:#000;stroke-width:0.35px">2</text>
<text x="57.87" y="561.78" font-size="38" style="font-family:'Liberation Sans',sans-serif;stroke:#000;stroke-width:0.35px">3</text>
<path transform="translate(194.28,797.70) scale(0.01855,-0.01855)" d="M763,0H583V1147C518,1085 433,1023 328,961C280,933 242,921 222,912V1086C312,1128 410,1189 497,1267C584,1345 640,1414 671,1472H763Z" fill="#000" stroke="#000" stroke-width="18.9"/>
<text x="216.51" y="797.70" font-size="38" style="font-family:'Liberation Sans',sans-serif;stroke:#000;stroke-width:0.35px">0</text>
<text x="238.74" y="797.70" font-size="38" style="font-family:'Liberation Sans',sans-serif;stroke:#000;stroke-width:0.35px">0</text>
<path transform="translate(494.33,797.70) scale(0.01855,-0.01855)" d="M763,0H583V1147C518,1085 433,1023 328,961C280,933 242,921 222,912V1086C312,1128 410,1189 497,1267C584,1345 640,1414 671,1472H763Z" fill="#000" stroke="#000" stroke-width="18.9"/>
<text x="516.57" y="797.70" font-size="38" style="font-family:'Liberation Sans',sans-serif;stroke:#000;stroke-width:0.35px">0</text>
<text x="538.80" y="797.70" font-size="38" style="font-family:'Liberation Sans',sans-serif;stroke:#000;stroke-width:0.35px">0</text>
<text x="561.03" y="797.70" font-size="38" style="font-family:'Liberation Sans',sans-serif;stroke:#000;stroke-width:0.35px">0</text>
<path transform="translate(629.70,797.70) scale(0.01855,-0.01855)" d="M763,0H583V1147C518,1085 433,1023 328,961C280,933 242,921 222,912V1086C312,1128 410,1189 497,1267C584,1345 640,1414 671,1472H763Z" fill="#000" stroke="#000" stroke-width="18.9"/>
<text x="651.94" y="797.70" font-size="38" style="font-family:'Liberation Sans',sans-serif;stroke:#000;stroke-width:0.35px">0</text>
<text x="674.17" y="797.70" font-size="38" style="font-family:'Liberation Sans',sans-serif;stroke:#000;stroke-width:0.35px">0</text>
<path transform="translate(930.83,797.70) scale(0.01855,-0.01855)" d="M763,0H583V1147C518,1085 433,1023 328,961C280,933 242,921 222,912V1086C312,1128 410,1189 497,1267C584,1345 640,1414 671,1472H763Z" fill="#000" stroke="#000" stroke-width="18.9"/>
<text x="953.07" y="797.70" font-size="38" style="font-family:'Liberation Sans',sans-serif;stroke:#000;stroke-width:0.35px">0</text>
<text x="975.30" y="797.70" font-size="38" style="font-family:'Liberation Sans',sans-serif;stroke:#000;stroke-width:0.35px">0</text>
<text x="997.53" y="797.70" font-size="38" style="font-family:'Liberation Sans',sans-serif;stroke:#000;stroke-width:0.35px">0</text>
<text x="112.8" y="53.9" font-size="35.5" style="font-family:'Liberation Sans',sans-serif;stroke:#000;stroke-width:0.35px">(a)</text>
<text x="551.55" y="53.9" font-size="35.5" style="font-family:'Liberation Sans',sans-serif;stroke:#000;stroke-width:0.35px">(b)</text>
<text x="112.8" y="299.5" font-size="35.5" style="font-family:'Liberation Sans',sans-serif;stroke:#000;stroke-width:0.35px">(c)</text>
<text x="551.55" y="299.5" font-size="35.5" style="font-family:'Liberation Sans',sans-serif;stroke:#000;stroke-width:0.35px">(d)</text>
<text x="112.8" y="546.4" font-size="35.5" style="font-family:'Liberation Sans',sans-serif;stroke:#000;stroke-width:0.35px">(e)</text>
<text x="551.55" y="546.4" font-size="35.5" style="font-family:'Liberation Sans',sans-serif;stroke:#000;stroke-width:0.35px">(f)</text>
<text x="359.4" y="840.7" font-size="43.5" letter-spacing="0.6" style="font-family:'Liberation Sans',sans-serif;stroke:#000;stroke-width:0.35px">Particle size <tspan font-style="italic">d</tspan> (nm)</text>
<text transform="translate(39,661.75) rotate(-90)" font-size="43.5" letter-spacing="0.5" style="font-family:'Liberation Sans',sans-serif;stroke:#000;stroke-width:0.35px">Normalized relative frequency</text>
</svg></body></html>
